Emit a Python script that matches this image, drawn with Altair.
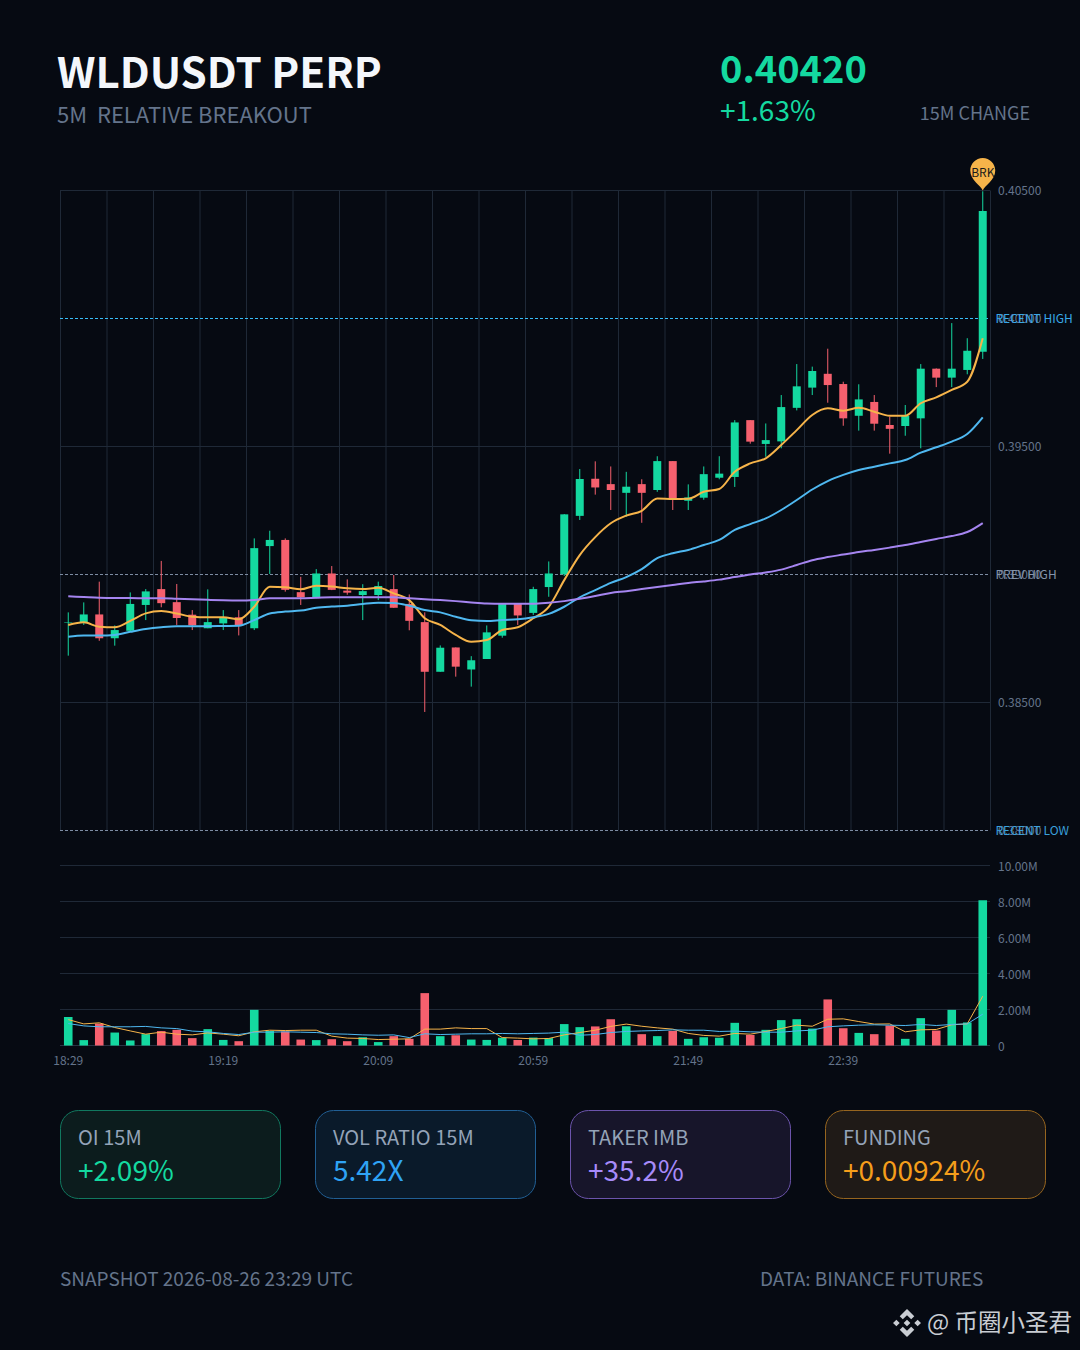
import altair as alt
import altair.utils.html as alt_html
import pandas as pd

title = "WLDUSDT PERP"
subtitle = "5M\u00a0\u00a0RELATIVE BREAKOUT"
last_price = "0.40420"
change_pct = "+1.63%"
change_label = "15M CHANGE"
footer_left = "SNAPSHOT 2026-08-26 23:29 UTC"
footer_right = "DATA: BINANCE FUTURES"
watermark = "@ 币圈小圣君"

# prices in 1e-5 units
opens = [38812,38813,38844,38751,38780,38881,38943,38892,38843,38790,38809,38833,38790,39111,39135,38931,38911,39004,38937,38920,38920,38943,38885,38814,38620,38715,38629,38670,38761,38887,38850,38951,39001,39229,39374,39353,39319,39353,39330,39443,39288,39300,39378,39381,39603,39510,39520,39651,39730,39784,39744,39620,39674,39584,39580,39610,39804,39769,39799,39870]
closes = [38814,38844,38751,38783,38885,38934,38888,38830,38801,38814,38833,38801,39103,39135,38940,38911,39004,38940,38929,38935,38955,38870,38819,38620,38714,38640,38665,38774,38887,38840,38943,39004,39235,39373,39340,39330,39343,39319,39443,39294,39301,39392,39394,39594,39519,39525,39654,39735,39795,39740,39610,39684,39589,39569,39620,39804,39769,39804,39874,40420]
highs = [38852,38891,38972,38801,38930,38943,39053,38963,38861,38942,38861,38861,39141,39171,39141,38991,39021,39033,38981,38962,38972,38998,38922,38852,38723,38715,38681,38801,38887,38887,38952,39051,39236,39412,39442,39422,39401,39372,39462,39443,39352,39422,39462,39603,39603,39590,39701,39822,39812,39882,39753,39743,39701,39616,39662,39822,39805,39982,39923,40497]
lows = [38683,38803,38741,38722,38776,38822,38872,38803,38783,38790,38783,38762,38783,39002,38933,38881,38907,38939,38921,38822,38900,38870,38782,38463,38620,38601,38562,38670,38753,38803,38842,38913,38994,39213,39312,39252,39226,39202,39323,39252,39252,39292,39372,39342,39511,39460,39493,39641,39701,39671,39581,39562,39562,39472,39542,39493,39732,39732,39782,39842]
ema_fast = [38803,38813,38796,38794,38819,38848,38857,38848,38835,38833,38833,38825,38874,38952,38950,38942,38956,38953,38946,38943,38948,38926,38900,38829,38803,38764,38737,38744,38783,38794,38829,38874,38978,39076,39146,39200,39230,39249,39297,39295,39296,39323,39334,39401,39434,39454,39506,39564,39623,39649,39640,39651,39636,39620,39620,39669,39692,39721,39753,39923]
ema_mid = [38757,38762,38762,38764,38776,38787,38794,38798,38798,38798,38799,38800,38822,38848,38855,38859,38870,38875,38878,38885,38890,38889,38878,38861,38852,38835,38821,38818,38822,38825,38833,38846,38874,38911,38939,38967,38990,39021,39064,39083,39096,39115,39135,39174,39197,39219,39252,39291,39332,39365,39389,39408,39421,39434,39447,39476,39497,39519,39549,39614]
ema_slow = [38915,38912,38909,38908,38908,38907,38907,38905,38903,38901,38899,38898,38900,38907,38907,38907,38909,38911,38911,38911,38911,38911,38907,38903,38900,38896,38891,38887,38886,38886,38886,38890,38896,38905,38916,38928,38935,38943,38951,38959,38967,38973,38980,38990,39000,39008,39019,39037,39056,39068,39078,39088,39096,39105,39115,39127,39139,39150,39166,39201]
# volume in millions
volume = [1.59,0.30,1.22,0.72,0.28,0.63,0.80,0.87,0.41,0.91,0.31,0.24,1.98,0.81,0.78,0.33,0.30,0.35,0.24,0.46,0.19,0.52,0.37,2.91,0.52,0.57,0.33,0.31,0.43,0.30,0.44,0.41,1.19,1.02,1.06,1.46,1.07,0.63,0.52,0.81,0.37,0.46,0.43,1.26,0.59,0.87,1.41,1.46,0.94,2.56,0.96,0.70,0.63,1.11,0.37,1.52,0.83,1.98,1.28,8.07]
vol_fast = [1.44,1.20,1.26,1.00,0.81,0.63,0.74,0.63,0.59,0.70,0.63,0.54,0.76,0.85,0.83,0.85,0.85,0.52,0.41,0.39,0.33,0.35,0.37,0.91,0.91,0.98,0.94,0.94,0.44,0.41,0.37,0.39,0.59,0.72,0.85,1.06,1.19,1.07,0.98,0.91,0.67,0.56,0.52,0.67,0.63,0.78,0.94,1.13,1.07,1.46,1.48,1.33,1.19,1.20,0.76,0.87,0.89,1.15,1.20,2.74]
vol_slow = [1.22,1.09,1.04,1.04,1.04,1.06,0.98,0.94,0.80,0.76,0.67,0.61,0.74,0.74,0.76,0.74,0.72,0.65,0.63,0.59,0.57,0.59,0.44,0.65,0.61,0.63,0.65,0.65,0.67,0.65,0.67,0.69,0.74,0.57,0.61,0.72,0.78,0.81,0.83,0.87,0.85,0.85,0.78,0.80,0.76,0.74,0.74,0.81,0.85,1.04,1.09,1.13,1.15,1.13,1.11,1.17,1.11,1.17,1.20,1.74]

price_ticks = [0.405, 0.40, 0.395, 0.39, 0.385, 0.38]
grid_prices = [0.405, 0.395, 0.385]
levels = [0.40, 0.39, 0.38]
level_labels = ["RECENT HIGH", "PREV HIGH", "RECENT LOW"]
vol_ticks = [0, 2, 4, 6, 8, 10]
vol_tick_labels = ["0", "2.00M", "4.00M", "6.00M", "8.00M", "10.00M"]
time_idx = [0, 10, 20, 30, 40, 50]
time_labels = ["18:29", "19:19", "20:09", "20:59", "21:49", "22:39"]

card_labels = ["OI 15M", "VOL RATIO 15M", "TAKER IMB", "FUNDING"]
card_values = ["+2.09%", "5.42X", "+35.2%", "+0.00924%"]

BG = "#060a12"
GRID = "#1f2937"
UP = "#14d9a0"
DOWN = "#f6606e"
ORANGE = "#f6b44a"
BLUE = "#4fb8f0"
PURPLE = "#a585f0"
MUTED = "#64748b"
FONT = "Noto Sans CJK SC"

def px(v):
    return v - 8

xs = alt.Scale(domain=[-0.5, 59.5], range=[px(60.5), px(990.5)], nice=False, zero=False, padding=0)
ps = alt.Scale(domain=[0.38, 0.405], range=[px(830.5), px(190.5)], nice=False, zero=False)
vs = alt.Scale(domain=[0, 10], range=[px(1045.5), px(865.5)], nice=False, zero=True)

X = alt.X("i:Q", scale=xs, axis=None)
def PY(f):
    return alt.Y(f"{f}:Q", scale=ps, axis=None)
def PY2(f):
    return alt.Y2(f"{f}:Q")
def VY(f):
    return alt.Y(f"{f}:Q", scale=vs, axis=None, stack=None)

candles = pd.DataFrame({
    "i": list(range(60)),
    "o": [v / 1e5 for v in opens],
    "c": [v / 1e5 for v in closes],
    "h": [v / 1e5 for v in highs],
    "l": [v / 1e5 for v in lows],
    "ef": [v / 1e5 for v in ema_fast],
    "em": [v / 1e5 for v in ema_mid],
    "es": [v / 1e5 for v in ema_slow],
    "v": volume,
    "vf": vol_fast,
    "vs": vol_slow,
})
candles["d"] = ["up" if c >= o else "down" for o, c in zip(opens, closes)]
COL = alt.Color("d:N", scale=alt.Scale(domain=["up", "down"], range=[UP, DOWN]), legend=None)

layers = []

def rect(x0, y0, x1, y1, fill, stroke, radius=18):
    return alt.Chart(pd.DataFrame({"a": [0]})).mark_rect(
        fill=fill, stroke=stroke, strokeWidth=1, cornerRadius=radius
    ).encode(x=alt.value(px(x0)), x2=alt.value(px(x1)), y=alt.value(px(y0)), y2=alt.value(px(y1)))

def label(txt, x, y, size, color, weight="normal", align="left"):
    return alt.Chart(pd.DataFrame({"t": [txt]})).mark_text(
        font=FONT, fontSize=size, color=color, fontWeight=weight, align=align, baseline="middle"
    ).encode(x=alt.value(px(x)), y=alt.value(px(y)), text="t:N")

# header
layers += [
    label(title, 57, 75, 42, "#f4f7fb", "bold"),
    label(subtitle, 57, 116, 22, MUTED),
    label(last_price, 720, 72, 38, UP, "bold"),
    label(change_pct, 720, 113, 28, UP),
    label(change_label, 1030, 115, 18, MUTED, align="right"),
]

# price grid
vgrid = pd.DataFrame({"i": [-0.5 + 3 * k for k in range(21)]})
layers.append(alt.Chart(vgrid).mark_rule(color=GRID, strokeWidth=1).encode(
    x=X, y=alt.value(px(190.5)), y2=alt.value(px(830.5))))
hgrid = pd.DataFrame({"p": grid_prices})
layers.append(alt.Chart(hgrid).mark_rule(color=GRID, strokeWidth=1).encode(
    y=PY("p"), x=alt.value(px(60)), x2=alt.value(px(990))))

# key levels
lv = pd.DataFrame({"p": levels, "t": level_labels})
LV_LINE = alt.Color("t:N", scale=alt.Scale(domain=level_labels, range=["#38bdf8", "#7d8ca3", "#7d8ca3"]), legend=None)
LV_TEXT = alt.Color("t:N", scale=alt.Scale(domain=level_labels, range=["#38a8e8", "#8494aa", "#3aa0dc"]), legend=None)
layers.append(alt.Chart(lv).mark_rule(strokeWidth=1, strokeDash=[3, 2]).encode(
    y=PY("p"), x=alt.value(px(60)), x2=alt.value(px(990)), color=LV_LINE))

# candles
layers.append(alt.Chart(candles).mark_rule(strokeWidth=1).encode(x=X, y=PY("l"), y2=PY2("h"), color=COL))
layers.append(alt.Chart(candles).mark_bar(size=8).encode(x=X, y=PY("o"), y2=PY2("c"), color=COL))

# EMAs
for f, col in [("ef", ORANGE), ("em", BLUE), ("es", PURPLE)]:
    layers.append(alt.Chart(candles).mark_line(color=col, strokeWidth=2, interpolate="monotone").encode(x=X, y=PY(f)))

# price tick labels
pt = pd.DataFrame({"p": price_ticks, "t": [f"{v:.5f}" for v in price_ticks]})
layers.append(alt.Chart(pt).mark_text(font=FONT, fontSize=12, dy=0.5, color=MUTED, align="left", baseline="middle").encode(
    y=PY("p"), x=alt.value(px(998)), text="t:N"))
layers.append(alt.Chart(lv).mark_text(font=FONT, fontSize=12, dy=0.5, align="left", baseline="middle").encode(
    y=PY("p"), x=alt.value(px(995.5)), text="t:N", color=LV_TEXT))

# breakout pin
pin = pd.DataFrame({"i": [59], "p": [0.405], "t": ["BRK"]})
PIN_SHAPE = "M0,0 C-0.08,-0.2 -0.5,-0.42 -0.5,-0.8 A0.5,0.5 0 1 1 0.5,-0.8 C0.5,-0.42 0.08,-0.2 0,0 Z"
layers.append(alt.Chart(pin).mark_point(shape=PIN_SHAPE, size=2500, filled=True, fill=ORANGE, stroke=None, opacity=1).encode(x=X, y=PY("p")))
layers.append(alt.Chart(pin).mark_text(font=FONT, fontSize=12, color="#1a1a1a", dy=-18).encode(x=X, y=PY("p"), text="t:N"))

# volume panel
vt = pd.DataFrame({"v": vol_ticks, "t": vol_tick_labels})
layers.append(alt.Chart(vt).mark_rule(strokeWidth=1).encode(
    y=VY("v"), x=alt.value(px(60)), x2=alt.value(px(990)),
    color=alt.condition("datum.v === 0", alt.value("#2a3444"), alt.value(GRID))))
layers.append(alt.Chart(candles).mark_bar(size=8.6).encode(x=X, y=VY("v"), color=COL))
layers.append(alt.Chart(candles).mark_line(color=ORANGE, strokeWidth=1).encode(x=X, y=VY("vf")))
layers.append(alt.Chart(candles).mark_line(color=BLUE, strokeWidth=1).encode(x=X, y=VY("vs")))
layers.append(alt.Chart(vt).mark_text(font=FONT, fontSize=12, dy=1.5, color=MUTED, align="left", baseline="middle").encode(
    y=VY("v"), x=alt.value(px(998)), text="t:N"))

tl = pd.DataFrame({"i": time_idx, "t": time_labels})
layers.append(alt.Chart(tl).mark_text(font=FONT, fontSize=12, color=MUTED, baseline="middle").encode(
    x=X, y=alt.value(px(1060.5)), text="t:N"))

# cards
card_style = [
    ("#0c1c1d", "#11785f", UP),
    ("#0a1a2a", "#215f94", "#2fa3f5"),
    ("#17152a", "#6c54ac", "#a78bfa"),
    ("#1f1a17", "#96651f", "#f59e1b"),
]
for k, (lab, val) in enumerate(zip(card_labels, card_values)):
    x0 = 60.5 + 255 * k
    fill, stroke, col = card_style[k]
    layers.append(rect(x0, 1110.5, x0 + 220, 1198.5, fill, stroke))
    layers.append(label(lab, x0 + 17.5, 1139, 20, "#94a3b8"))
    layers.append(label(val, x0 + 17.5, 1173, 28, col))

# footer
layers += [
    label(footer_left, 60, 1280, 19, MUTED),
    label(footer_right, 760, 1280, 19, MUTED),
    label(watermark, 927, 1324, 23.5, "#c9cdd3"),
]
LOGO = ("M0,-0.5 L0.26,-0.24 L0.15,-0.13 L0,-0.28 L-0.15,-0.13 L-0.26,-0.24 Z "
        "M0,0.5 L0.26,0.24 L0.15,0.13 L0,0.28 L-0.15,0.13 L-0.26,0.24 Z "
        "M-0.5,0 L-0.38,-0.12 L-0.26,0 L-0.38,0.12 Z "
        "M0.5,0 L0.38,-0.12 L0.26,0 L0.38,0.12 Z "
        "M0,-0.12 L0.12,0 L0,0.12 L-0.12,0 Z")
layers.append(alt.Chart(pd.DataFrame({"a": [0]})).mark_point(
    shape=LOGO, size=3136, filled=True, fill="#c9cdd3", stroke=None, opacity=1
).encode(x=alt.value(px(907)), y=alt.value(px(1323))))

chart = alt.layer(*layers).resolve_scale(y="independent", color="independent").properties(
    width=1064, height=1334, padding=0,
    autosize=alt.AutoSizeParams(type="none"),
    background=BG,
).configure_view(stroke=None)


class DarkPage:
    """Paints the 8px page margin in the chart's background colour."""
    def __init__(self, base):
        self.base = base
    def render(self, **kw):
        return self.base.render(**kw).replace(
            "<head>", f"<head><style>html,body{{background:{BG};}}</style>", 1)


alt_html.TEMPLATES["standard"] = DarkPage(alt_html.TEMPLATES["standard"])

chart.save("out.html", embed_options={"renderer": "svg", "actions": False})
